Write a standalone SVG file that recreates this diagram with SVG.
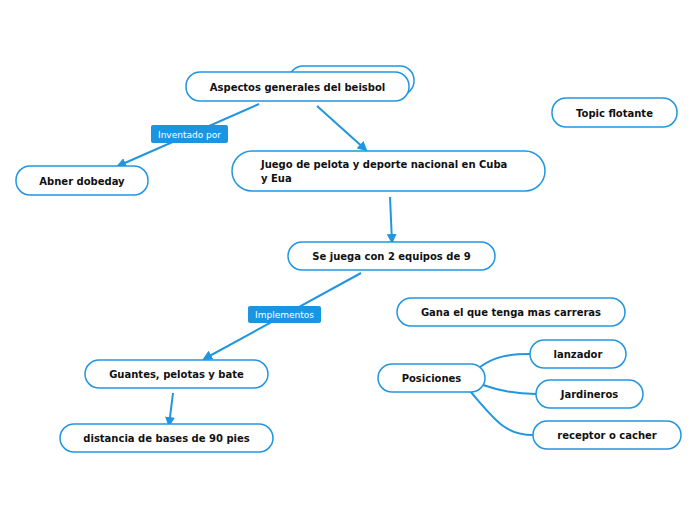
<svg xmlns="http://www.w3.org/2000/svg" width="696" height="520" viewBox="0 0 696 520">
<defs>
<style>
.n{fill:#fff;stroke:#2196e0;stroke-width:1.5}
.t{font-family:"DejaVu Sans",Verdana,sans-serif;font-weight:bold;font-size:10px;fill:#111}
.c{stroke:#2196e0;stroke-width:2;fill:none}
.lb{fill:#1b95e0}
.lt{font-family:"DejaVu Sans",Verdana,sans-serif;font-size:9px;fill:#fff}
</style>
<marker id="a" viewBox="0 0 10 10" refX="8" refY="5" markerWidth="5" markerHeight="5" orient="auto" markerUnits="strokeWidth">
<path d="M0,0L10,5L0,10z" fill="#2196e0"/>
</marker>
</defs>
<rect width="696" height="520" fill="#fff"/>
<g id="connectors">
<line class="c" x1="259" y1="104" x2="118" y2="166" marker-end="url(#a)"/>
<line class="c" x1="317" y1="106" x2="366" y2="150" marker-end="url(#a)"/>
<line class="c" x1="390" y1="197" x2="392" y2="242" marker-end="url(#a)"/>
<line class="c" x1="361" y1="273" x2="204" y2="359" marker-end="url(#a)"/>
<line class="c" x1="173" y1="393" x2="169" y2="425" marker-end="url(#a)"/>
<path class="c" d="M480,367 C495,356 510,354 530,354" stroke-width="1.6"/>
<path class="c" d="M483,385 C500,391 515,394 536,394" stroke-width="1.8"/>
<path class="c" d="M470,391 C495,420 505,435 533,435" stroke-width="2"/>
<rect class="lb" x="151" y="125" width="77" height="18" rx="2"/>
<text class="lt" x="189.5" y="137.5" text-anchor="middle">Inventado por</text>
<rect class="lb" x="248" y="306" width="73" height="17" rx="2"/>
<text class="lt" x="284.5" y="318" text-anchor="middle">Implementos</text>
</g>
<g id="n-back"><rect class="n" x="289" y="66" width="125" height="29" rx="14"/></g>
<g id="n-aspectos"><rect class="n" x="186" y="72" width="223" height="29" rx="14"/><text class="t" x="297.5" y="90.5" text-anchor="middle">Aspectos generales del beisbol</text></g>
<g id="n-abner"><rect class="n" x="16" y="166" width="132" height="29" rx="14"/><text class="t" x="82" y="184.5" text-anchor="middle">Abner dobeday</text></g>
<g id="n-juego"><rect class="n" x="232" y="151" width="313" height="40" rx="20"/><text class="t" x="261" y="168">Juego de pelota y deporte nacional en Cuba</text><text class="t" x="261" y="182">y Eua</text></g>
<g id="n-topic"><rect class="n" x="552" y="98" width="125" height="29" rx="14"/><text class="t" x="614.5" y="116.5" text-anchor="middle">Topic flotante</text></g>
<g id="n-sejuega"><rect class="n" x="288" y="242" width="207" height="28" rx="14"/><text class="t" x="391.5" y="260" text-anchor="middle">Se juega con 2 equipos de 9</text></g>
<g id="n-gana"><rect class="n" x="397" y="298" width="228" height="28" rx="14"/><text class="t" x="511" y="316" text-anchor="middle">Gana el que tenga mas carreras</text></g>
<g id="n-guantes"><rect class="n" x="85" y="360" width="183" height="28" rx="14"/><text class="t" x="176.5" y="378" text-anchor="middle">Guantes, pelotas y bate</text></g>
<g id="n-distancia"><rect class="n" x="60" y="424" width="213" height="28" rx="14"/><text class="t" x="166.5" y="442" text-anchor="middle">distancia de bases de 90 pies</text></g>
<g id="n-posiciones"><rect class="n" x="378" y="364" width="107" height="28" rx="14"/><text class="t" x="431.5" y="382" text-anchor="middle">Posiciones</text></g>
<g id="n-lanzador"><rect class="n" x="530" y="340" width="96" height="28" rx="14"/><text class="t" x="578" y="358" text-anchor="middle">lanzador</text></g>
<g id="n-jardineros"><rect class="n" x="536" y="380" width="107" height="28" rx="14"/><text class="t" x="589.5" y="398" text-anchor="middle">Jardineros</text></g>
<g id="n-receptor"><rect class="n" x="533" y="421" width="148" height="28" rx="14"/><text class="t" x="607" y="439" text-anchor="middle">receptor o cacher</text></g>
</svg>
